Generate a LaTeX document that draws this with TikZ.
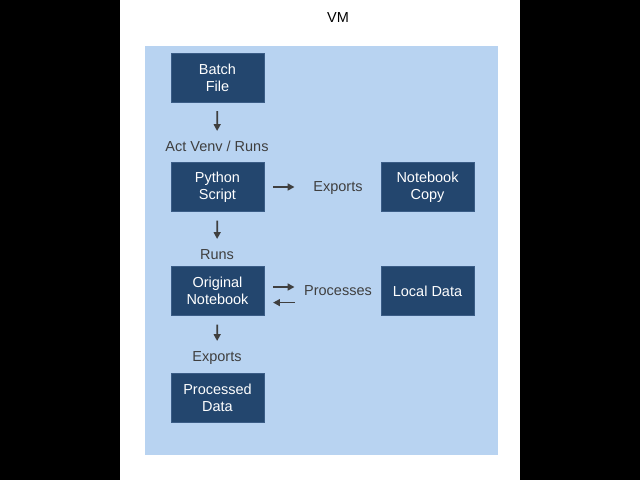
\documentclass[tikz,border=0pt]{standalone}
\usepackage{fontspec}
\setmainfont{Liberation Sans}
\usepackage{xcolor}
\usepackage{tikz}
\usetikzlibrary{arrows.meta,positioning,calc}
\definecolor{Ink}{HTML}{3F3F3F}
\definecolor{Navy}{HTML}{23466E}
\definecolor{NavyEdge}{HTML}{3A5C86}
\definecolor{PanelBlue}{HTML}{B8D3F1}
\tikzset{
  stage/.style={fill=Navy,draw=NavyEdge,line width=0.4pt,text=white,minimum width=2.325cm,minimum height=1.225cm,inner sep=0pt,align=center,font=\fontsize{10.3}{12.2}\selectfont},
  lbl/.style={text=Ink,inner sep=0pt,text height=7pt,text depth=0pt,font=\fontsize{10.3}{12.2}\selectfont},
  sidelbl/.style={lbl,minimum width=1.8cm},
  arrow/.style={-{Triangle[length=1.7mm,width=1.7mm]},line width=1.2pt,draw=Ink},
  downarrow/.style={arrow,shorten <=2.2mm,shorten >=2.7mm},
  rightarrow/.style={arrow,shorten <=2.2mm,shorten >=1.8mm},
  leftarrow/.style={arrow,shorten <=1.8mm,shorten >=2.2mm}
}
\begin{document}
\begin{tikzpicture}
  \useasboundingbox (0,0) rectangle (16,12);
  \fill[black] (0,0) rectangle (16,12);
  \fill[white] (3,0) rectangle (13,12);
  \fill[PanelBlue] (3.625,0.625) rectangle (12.45,10.85);
  \node[text=black,font=\fontsize{10.3}{12.2}\selectfont] (vm) at (8.45,11.55) {VM};
  % left column
  \node[stage] (batch) at (5.4375,10.0625) {Batch\\File};
  \node[lbl] (actvenv) at (5.425,8.325) {Act Venv / Runs};
  \node[stage] (python) at (5.4375,7.325) {Python\\Script};
  \node[lbl] (runs) at (5.425,5.625) {Runs};
  \node[stage] (orig) at (5.4375,4.725) {Original\\Notebook};
  \node[lbl] (exportsdown) at (5.425,3.075) {Exports};
  \node[stage] (processed) at (5.4375,2.05) {Processed\\Data};
  % right column
  \node[sidelbl] (exportsside) at (8.45,7.325) {Exports};
  \node[stage] (copy) at (10.6875,7.325) {Notebook\\Copy};
  \node[sidelbl] (procs) at (8.45,4.725) {Processes};
  \node[stage] (localdata) at (10.6875,4.725) {Local Data};
  \draw[downarrow] (batch) -- (actvenv);
  \draw[downarrow] (python) -- (runs);
  \draw[downarrow] (orig) -- (exportsdown);
  \draw[rightarrow] (python) -- (exportsside);
  \draw[rightarrow,transform canvas={yshift=1mm}] (orig) -- (procs);
  \draw[leftarrow,transform canvas={yshift=-2.9mm}] (procs) -- (orig);
\end{tikzpicture}
\end{document}
